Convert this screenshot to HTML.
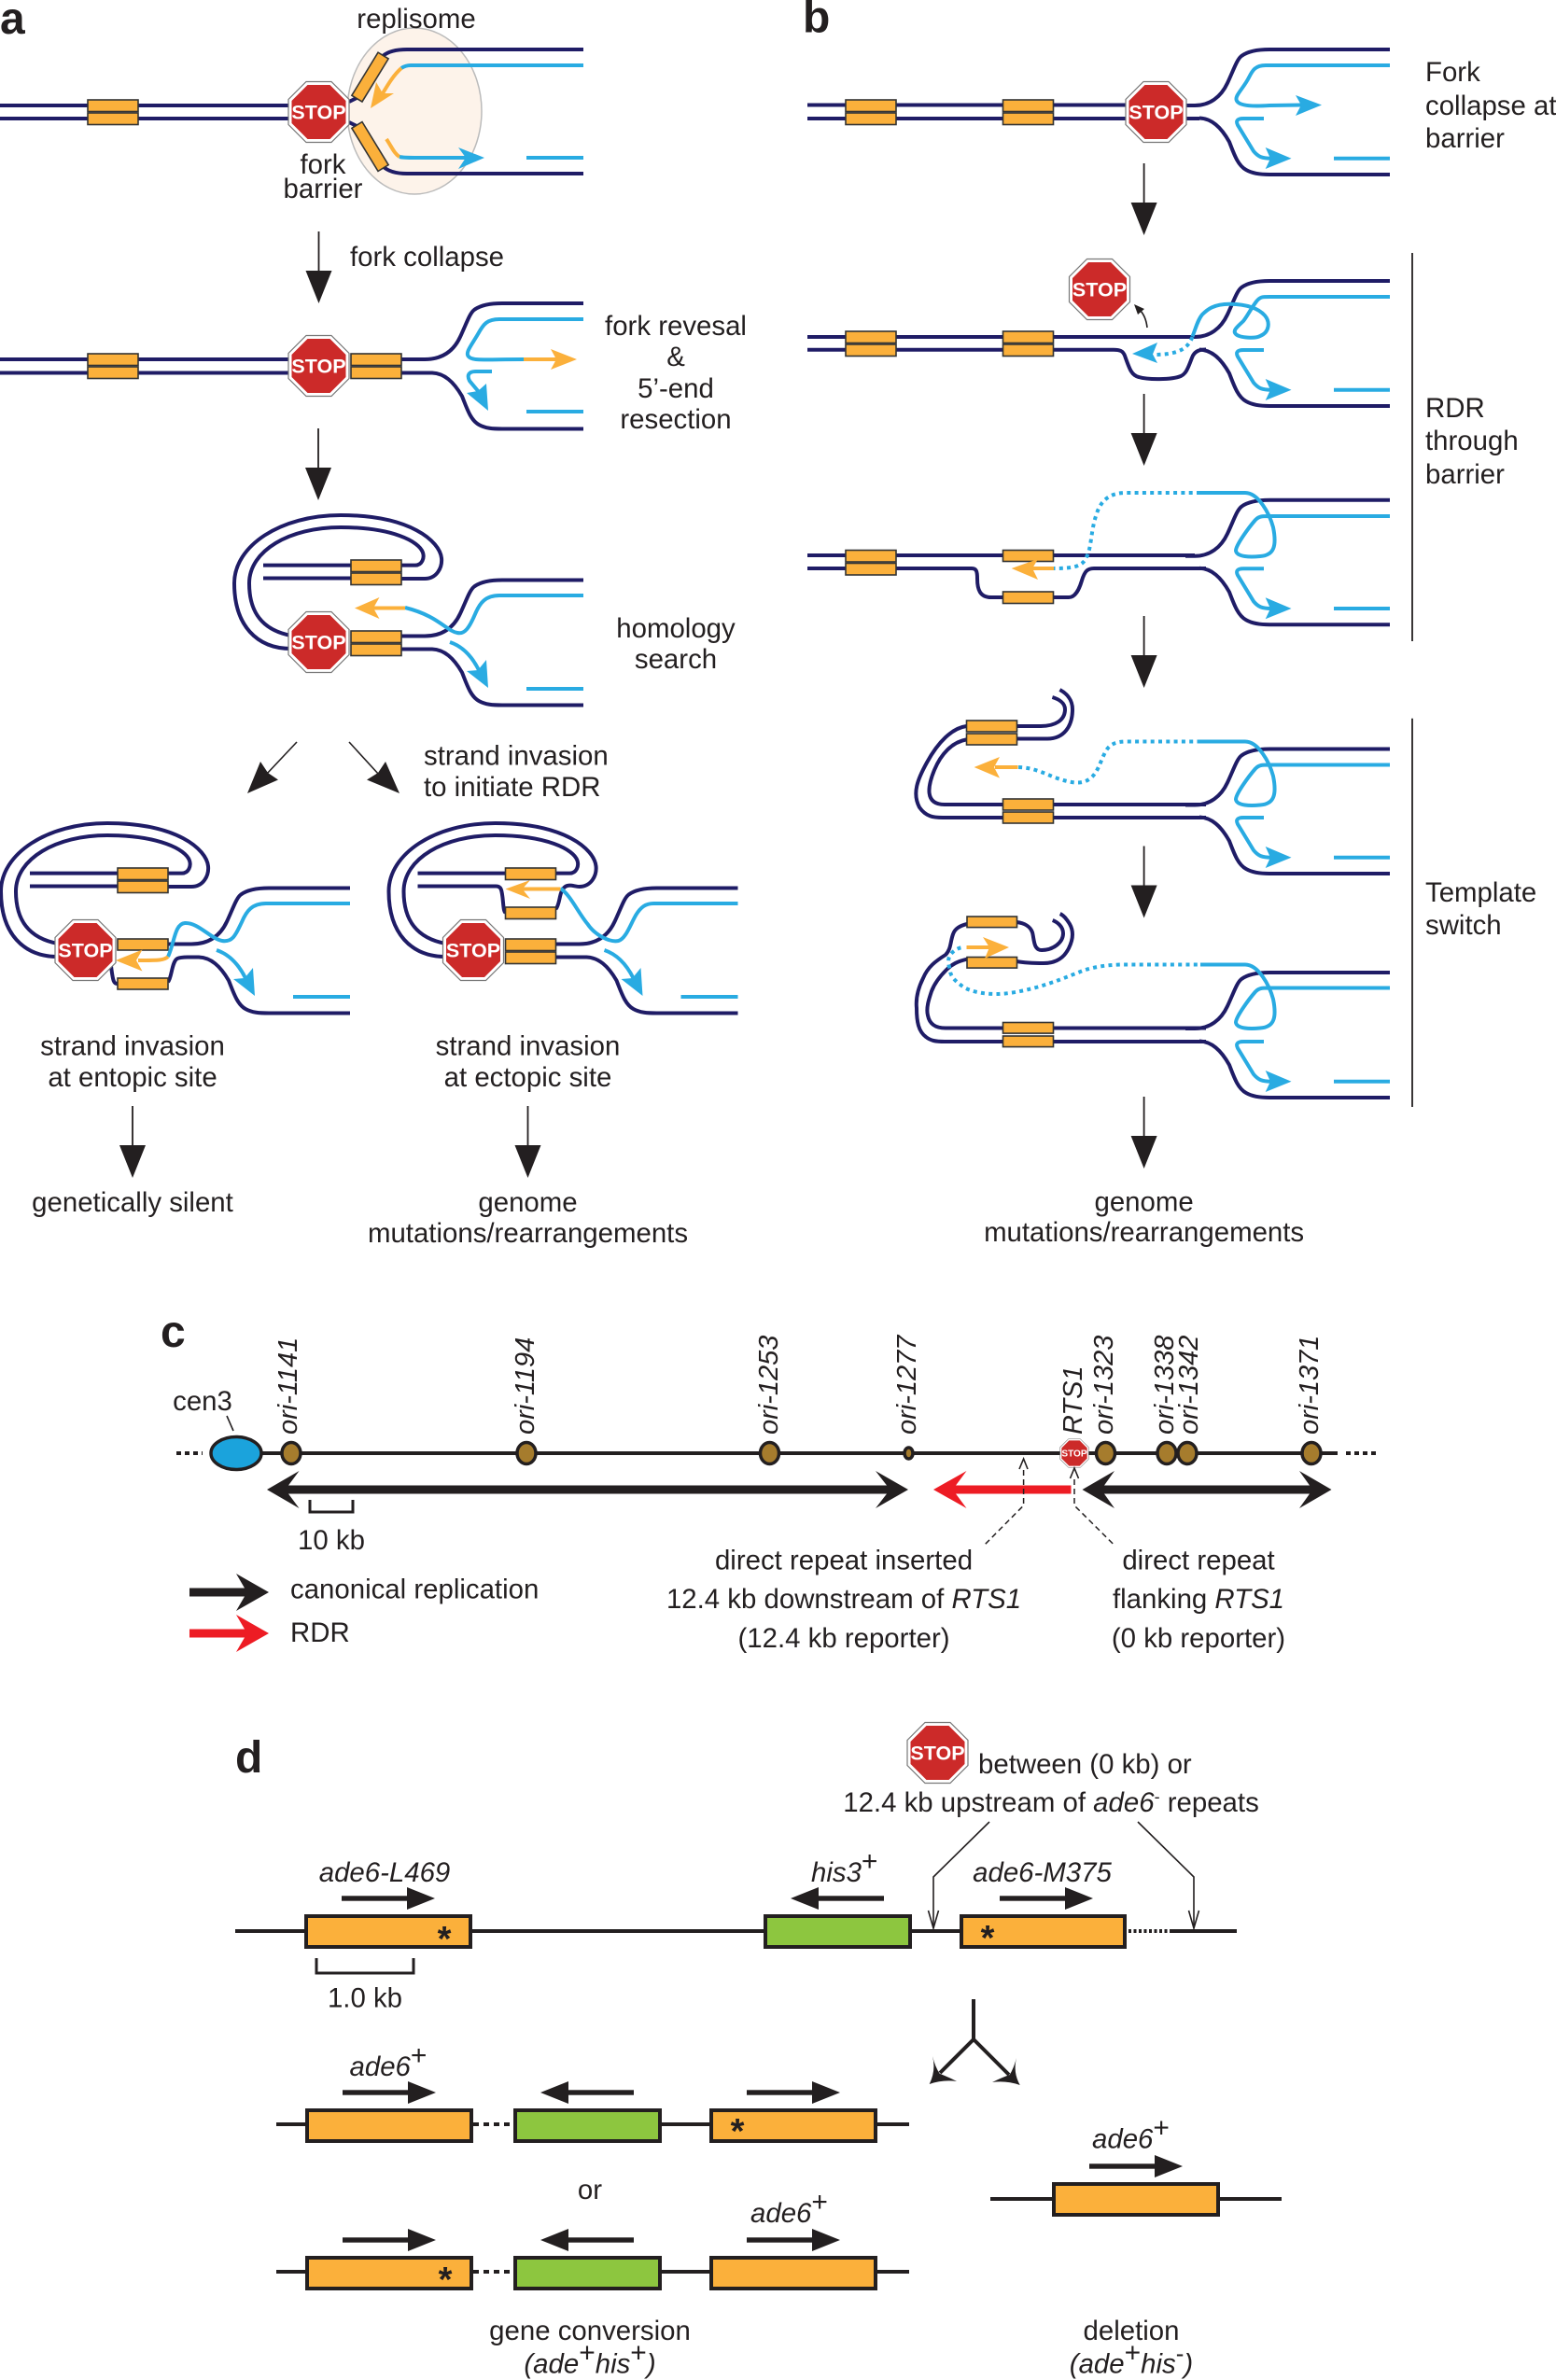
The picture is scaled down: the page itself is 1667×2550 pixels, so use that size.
<!DOCTYPE html>
<html><head><meta charset="utf-8">
<style>
html,body{margin:0;padding:0;background:#fff}
svg{display:block}
text{font-family:"Liberation Sans",sans-serif;font-size:29.4px;fill:#231f20}
.m{text-anchor:middle}
.i{font-style:italic}
.lab{font-weight:bold;font-size:48px}
.st{font-weight:bold;font-size:21.5px;fill:#fff;text-anchor:middle}
.ori{font-style:italic;font-size:29px}
.n{fill:none;stroke:#1f1c66;stroke-width:4}
.c{fill:none;stroke:#29abe2;stroke-width:4}
.d{fill:none;stroke:#29abe2;stroke-width:4;stroke-dasharray:4 4.3}
.o{fill:none;stroke:#fbb03b;stroke-width:4}
.fc{fill:#29abe2}.fo{fill:#fbb03b}
.b{fill:#fbb03b;stroke:#333;stroke-width:1.6}
.k{fill:none;stroke:#231f20;stroke-width:1.6}
.l{fill:none;stroke:#231f20;stroke-width:4}
.ds{fill:none;stroke:#231f20;stroke-width:1.5;stroke-dasharray:6 4}
.fk{fill:#231f20}
.br{stroke:#231f20;stroke-width:4;fill:#fbb03b}
.bg{stroke:#231f20;stroke-width:4;fill:#8dc63f}
.og{fill:#a67c2d;stroke:#231f20;stroke-width:3.5}
.ast{font-weight:bold;font-size:38px;text-anchor:middle}
</style></head>
<body>
<svg xmlns="http://www.w3.org/2000/svg" width="1667" height="2550" viewBox="0 0 1667 2550">
<defs>
<g id="oct">
<polygon points="-13.5,-32.5 13.5,-32.5 32.5,-13.5 32.5,13.5 13.5,32.5 -13.5,32.5 -32.5,13.5 -32.5,-13.5" fill="#fff" stroke="#777" stroke-width="1.2"/>
<polygon points="-12,-29 12,-29 29,-12 29,12 12,29 -12,29 -29,12 -29,-12" fill="#cc2a29"/>
</g>
<g id="dn"><line x1="0" y1="0" x2="0" y2="44" stroke="#231f20" stroke-width="1.8"/><polygon points="-14,42 14,42 0,77" fill="#231f20"/></g>
<g id="box2"><rect class="b" x="0" y="-13" width="54" height="12.5"/><rect class="b" x="0" y="1" width="54" height="12.5"/></g>
<g id="ra"><rect x="0" y="-2.7" width="72" height="5.4" fill="#231f20"/><polygon points="70,-12 100,0 70,12" fill="#231f20"/></g>

<!-- panel a fork, coordinates of row 2 -->
<g id="afu"><path class="n" d="M455 385C474 385 486 376 493 361C500 346 503 336 508 332C516 326 528 325 538 325H625"/></g>
<g id="afl"><path class="n" d="M455 399.500H463C476 400 486 409 495 424.500C500 437 504 450 513 455C520 459 528 459.500 538 459.500H625"/></g>
<!-- row-3 style common lower blue -->
<g id="ah3"><path class="c" d="M482 688C494 692 505 702 513 718"/><polygon class="fc" points="523,737 521,707 512,718 500,719"/><path class="c" d="M564 738H625"/></g>
<!-- loop, coords of row 3 -->
<g id="aout"><path class="n" d="M455 620C468 620 474 608 473 598C471 580 440 552 365 552C300 552 251 585 251 625C251 670 275 695 312 695"/></g>
<g id="ain"><path class="n" d="M430 605.6H445C452 605.6 455 598 453 592C449 580 420 565 365 565C310 565 267 590 267 625C267 655 280 675 312 681"/></g>

<!-- panel b fork, row 1 coordinates -->
<g id="bfu"><path class="n" d="M1270 113H1280C1296 113 1308 104 1315 89C1322 74 1325 64 1330 60C1338 54 1350 53 1360 53H1489"/></g>
<g id="bfl"><path class="n" d="M1285 126.500C1298 127 1308 136 1317 152C1322 165 1326 177 1335 182C1342 186 1350 187 1360 187H1489"/></g>
<g id="bh"><path class="c" d="M1354 127H1332C1325 127 1324 130 1326 134L1343 162C1348 168 1352 169.700 1362 169.700"/><polygon class="fc" points="1383.500,169.700 1355.700,158 1361,169.700 1355.700,181"/><path class="c" d="M1429 169.700H1489"/></g>
<!-- blue loop, row 3 coordinates -->
<g id="bl"><path class="c" d="M1286 528H1334C1348 528 1360 550 1364 565C1368 585 1365 595 1350 596C1340 597 1325 597 1324 590C1324 584 1338 565 1345 557C1349 553 1352 553 1360 553H1489"/></g>
</defs>

<!-- PANEL A -->
<text class="lab" x="0" y="36">a</text>
<ellipse cx="444" cy="119" rx="72" ry="89" fill="#fdf3ea" stroke="#bbb" stroke-width="1.5"/>
<text class="m" x="446" y="30">replisome</text>
<path class="n" d="M0 113H312M0 127H312"/>
<use href="#box2" x="94" y="120"/>
<path class="n" d="M374 109L384 104M374 131L384 136"/>
<path class="n" d="M410 60C416 55 425 53 436 53H625M410 178C416 184 425 186 436 186H625"/>
<rect class="b" x="-27" y="-6.5" width="54" height="13" transform="translate(396.5 82.6) rotate(-58.6)"/>
<rect class="b" x="-27" y="-6.5" width="54" height="13" transform="translate(396.5 157) rotate(58.6)"/>
<path class="c" d="M625 70H440C436 70 433 71 430 73"/>
<path class="o" d="M430 73C422 80 416 90 410 100"/>
<polygon class="fo" points="397,116 403,88 410,100 422,100"/>
<path class="o" d="M414 149C420 158 422 164 428 168"/>
<path class="c" d="M428 168C432 169 436 169 444 169H499"/>
<polygon class="fc" points="519,169 491,158 499,169 491,181"/>
<path class="c" d="M564 169H625"/>
<use href="#oct" x="341.5" y="120"/><text class="st" x="341.5" y="127.500">STOP</text>
<text class="m" x="346" y="186">fork</text>
<text class="m" x="346" y="212">barrier</text>

<use href="#dn" x="341.500" y="248"/>
<text x="375" y="285">fork collapse</text>

<path class="n" d="M0 385H312M0 399.500H312"/>
<path class="n" d="M430 385H455M430 399.500H455"/>
<use href="#afu"/><use href="#afl"/>
<use href="#box2" x="94" y="392"/><use href="#box2" x="376" y="392"/>
<use href="#oct" x="341.5" y="392"/><text class="st" x="341.5" y="399.500">STOP</text>
<path class="c" d="M625 342H535C522 342 518 347 512 358C505 370 498 378 502 382C506 387 520 385 561 385"/>
<path class="o" d="M561 385H596"/>
<polygon class="fo" points="618,385 590,374 596,385 590,396"/>
<path class="c" d="M527 398H510C502 398 500 402 503 408L513 420"/>
<polygon class="fc" points="523,440 521,411 512,419 500,421"/>
<path class="c" d="M564 441H625"/>
<text class="m" x="724" y="359">fork revesal</text>
<text class="m" x="724" y="392">&amp;</text>
<text class="m" x="724" y="426">5’-end</text>
<text class="m" x="724" y="459">resection</text>

<use href="#dn" x="341" y="459"/>

<!-- row 3 -->
<path class="n" d="M282 605.600H376M282 619.500H376"/>
<use href="#ain"/><use href="#aout"/>
<path class="n" d="M430 620H455"/>
<path class="n" d="M430 681.500H455M430 695.500H455"/>
<use href="#afu" y="296.500"/><use href="#afl" y="296"/>
<use href="#box2" x="376" y="613"/><use href="#box2" x="376" y="689"/>
<use href="#oct" x="341.5" y="688"/><text class="st" x="341.5" y="695.500">STOP</text>
<path class="c" d="M625 638H535C520 638 514 646 509 658C503 672 498 680 490 678C478 676 470 660 434 651"/>
<path class="o" d="M434 651.500H400"/>
<polygon class="fo" points="380,651.500 406.500,640 400,651.500 406.500,663"/>
<use href="#ah3"/>
<text class="m" x="724" y="683">homology</text>
<text class="m" x="724" y="716">search</text>

<!-- diagonals -->
<line class="k" x1="318" y1="795" x2="285" y2="830"/>
<polygon class="fk" points="265,850 279,816 287,828 298,835.500"/>
<line class="k" x1="374" y1="795" x2="406" y2="830"/>
<polygon class="fk" points="428,850 413,816 405,828 393,835.500"/>
<text x="454" y="819.500">strand invasion</text>
<text x="454" y="853">to initiate RDR</text>

<!-- sub left -->
<g transform="translate(-250 330)">
<path class="n" d="M282 605.600H376M282 619.500H376"/>
<use href="#ain"/><use href="#aout"/>
<path class="n" d="M430 620H455"/>
<path class="n" d="M430 681.500H455"/>
<path class="n" d="M369 705C371 722 372 724 376 724M430 722C434 718 434 700 440 697C444 695 450 695.500 455 695.500"/>
<use href="#afu" y="296.500"/><use href="#afl" y="296"/>
<use href="#box2" x="376" y="613"/>
<rect class="b" x="376" y="676" width="54" height="12"/>
<rect class="b" x="376" y="718" width="54" height="12"/>
<use href="#oct" x="341.5" y="688"/><text class="st" x="341.5" y="695.500">STOP</text>
<path class="c" d="M430 695C437 680 437 660 448 659C462 658 476 676 488 678C500 680 503 670 509 658C514 646 520 638 535 638H625"/>
<path class="o" d="M430 695C426 699 420 699 398 699"/>
<polygon class="fo" points="374,699 402.500,687.500 396,699 402.500,710.500"/>
<use href="#ah3"/>
</g>
<!-- sub right -->
<g transform="translate(165.500 330)">
<path class="n" d="M282 605.600H376M282 619.500H366C372 619.500 372 625 373 632C374 642 374 646 376 648"/>
<path class="n" d="M430 644C435 638 433 625 440 620C445 617 450 620 455 620"/>
<use href="#ain"/><use href="#aout"/>
<path class="n" d="M430 681.500H455M430 695.500H455"/>
<use href="#afu" y="296.500"/><use href="#afl" y="296"/>
<rect class="b" x="376" y="600" width="54" height="12.500"/>
<rect class="b" x="376" y="642" width="54" height="12.500"/>
<use href="#box2" x="376" y="689"/>
<use href="#oct" x="341.5" y="688"/><text class="st" x="341.5" y="695.500">STOP</text>
<path class="c" d="M435 622C445 628 454 648 464 660C472 672 488 680 497 678C505 676 510 660 516 650C521 642 526 638 535 638H625"/>
<path class="o" d="M435 622.500H394"/>
<polygon class="fo" points="376,622.500 402.500,613 394,622.500 402.500,633"/>
<use href="#ah3"/>
</g>
<text class="m" x="142" y="1130.500">strand invasion</text>
<text class="m" x="142" y="1164">at entopic site</text>
<text class="m" x="565.500" y="1130.500">strand invasion</text>
<text class="m" x="565.500" y="1164">at ectopic site</text>
<use href="#dn" x="142" y="1185"/><use href="#dn" x="565.500" y="1185"/>
<text class="m" x="142" y="1298">genetically silent</text>
<text class="m" x="565.500" y="1298">genome</text>
<text class="m" x="565.500" y="1331">mutations/rearrangements</text>

<!-- PANEL B -->
<text class="lab" x="860" y="34.500">b</text>
<!-- row 1 -->
<path class="n" d="M865 112.500H1208M865 127H1208M1270 127H1285"/>
<use href="#bfu"/><use href="#bfl"/>
<use href="#box2" x="906" y="120"/><use href="#box2" x="1074.500" y="120"/>
<use href="#oct" x="1238.500" y="120"/><text class="st" x="1238.500" y="127.500">STOP</text>
<path class="c" d="M1489 70H1356C1345 70 1342 75 1338 83C1332 95 1322 103 1325 108C1328 114 1345 114 1360 113L1394 112.500"/>
<polygon class="fc" points="1416,112.500 1388,102 1394,112.500 1388,124"/>
<use href="#bh"/>
<text x="1527" y="87">Fork</text>
<text x="1527" y="123">collapse at</text>
<text x="1527" y="158">barrier</text>
<use href="#dn" x="1225.600" y="175"/>

<!-- row 2 -->
<path class="n" d="M865 361H1280M865 374.700H1193C1200 374.700 1203 376 1205 381C1210 395 1212 402 1220 404C1230 407 1255 407 1265 403C1272 400 1274 390 1278 381C1281 376 1285 374.500 1292 374.500"/>
<use href="#bfu" y="248"/><use href="#bfl" y="248"/>
<use href="#box2" x="906" y="368"/><use href="#box2" x="1074.500" y="368"/>
<use href="#oct" x="1178" y="310"/><text class="st" x="1178" y="317.500">STOP</text>
<path class="k" d="M1229 351C1228 342 1225 336 1221 332"/>
<polygon class="fk" points="1215,326 1226,331 1219,337"/>
<path class="c" d="M1489 318H1360C1352 318 1350 318 1346 323C1340 331 1336 339 1332 344C1326 350 1320 354 1324 358C1328 362 1345 363 1350 360C1360 356 1361 345 1355 338C1348 330 1335 326 1318 325.700C1300 325.500 1293 332 1288 337C1283 343 1281 352 1277.500 360.500"/>
<path class="d" d="M1277.500 361C1273 372 1265 380 1236 380"/>
<polygon class="fc" points="1213,379 1240,367 1235,379.500 1240,389"/>
<use href="#bh" y="248"/>
<use href="#dn" x="1225.600" y="422"/>

<line x1="1513" y1="271" x2="1513" y2="687" stroke="#231f20" stroke-width="1.800"/>
<text x="1527" y="447">RDR</text>
<text x="1527" y="482">through</text>
<text x="1527" y="518">barrier</text>

<!-- row 3 -->
<path class="n" d="M865 595H1280"/>
<path class="n" d="M865 609H1041C1046 609 1047 612 1047 620C1047 632 1050 640 1062 640H1145C1152 640 1156 632 1159 622C1162 612 1165 609 1172 609H1292"/>
<use href="#bfu" y="482.800"/><use href="#bfl" y="482.300"/>
<use href="#box2" x="906" y="602.500"/>
<rect class="b" x="1074.500" y="589.500" width="54" height="12"/>
<rect class="b" x="1074.500" y="634" width="54" height="12.500"/>
<use href="#bl"/>
<path class="d" d="M1286 528H1206C1190 528 1180 535 1175 550C1168 570 1170 585 1164 597C1160 607 1150 609 1129 609"/>
<path class="o" d="M1129 609H1106"/>
<polygon class="fo" points="1083.600,609 1112,599 1106,609 1112,621"/>
<use href="#bh" y="482.300"/>
<use href="#dn" x="1225.600" y="660"/>

<!-- row 4 -->
<path class="n" d="M1035.500 778C1020 780 1005 795 993 817C983 835 977 850 985 865C992 875 1000 876 1010 876H1292"/>
<path class="n" d="M1035.500 792.400C1020 795 1008 808 1001 825C994 842 990 862 1012 862H1292"/>
<path class="n" d="M1089.500 778H1115C1130 778 1141 772 1141 760C1141 753 1134 749 1127.400 747"/>
<path class="n" d="M1089.500 791.500H1122C1140 791.500 1149 778 1149 760C1149 750 1143 743 1135.400 739"/>
<use href="#bfu" y="749.500"/><use href="#bfl" y="749"/>
<rect class="b" x="1035.500" y="772" width="54" height="12"/><rect class="b" x="1035.500" y="786" width="54" height="12"/>
<rect class="b" x="1074.500" y="856" width="54" height="12"/><rect class="b" x="1074.500" y="870" width="54" height="12"/>
<use href="#bl" y="266.500"/>
<path class="d" d="M1286.500 794.500H1206C1195 794.500 1188 798 1184 806C1178 818 1176 828 1168 834C1158 842 1145 838 1130 833C1118 828 1105 822 1090.500 822"/>
<path class="o" d="M1090.500 822H1066"/>
<polygon class="fo" points="1043.600,822 1071,811 1065,822 1071,833.600"/>
<use href="#bh" y="749"/>
<use href="#dn" x="1225.600" y="906.500"/>

<line x1="1513" y1="769.700" x2="1513" y2="1186" stroke="#231f20" stroke-width="1.800"/>
<text x="1527" y="966">Template</text>
<text x="1527" y="1001">switch</text>

<!-- row 5 -->
<path class="n" d="M1036 990C1028 992 1023 995 1021 1001C1018 1009 1019 1017 1013 1023C1002 1030 994 1036 989 1048C983 1060 981 1070 982 1080C982 1095 984 1105 992 1111C997 1115 1002 1116 1012 1116H1292"/>
<path class="n" d="M1036 1027.700C1026 1030 1020 1033 1014 1039C1006 1047 1001 1054 998 1062C995 1071 992 1080 994 1088C996 1098 1003 1101.500 1013 1101.500H1292"/>
<path class="n" d="M1089 988C1098 989 1104 993 1106 999C1108 1006 1107 1018 1116 1018C1128 1018 1139 1010 1139 1000C1139 993 1133 988 1127.700 986"/>
<path class="n" d="M1089 1030C1100 1032 1110 1032 1118 1032C1132 1032 1140 1026 1145 1016C1150 1006 1150 997 1146 990C1143 985 1140 981 1135.700 979"/>
<use href="#bfu" y="989"/><use href="#bfl" y="989"/>
<rect class="b" x="1036" y="982" width="53.500" height="11.600"/><rect class="b" x="1036" y="1025.500" width="53.500" height="11.600"/>
<rect class="b" x="1074.500" y="1095.500" width="54" height="11.600"/><rect class="b" x="1074.500" y="1110" width="54" height="11.600"/>
<use href="#bl" y="505.500"/>
<path class="d" d="M1282.800 1033.500H1200C1185 1034 1172 1036 1160 1040C1145 1046 1128 1053 1110 1058C1095 1062 1080 1065 1067 1065C1055 1065 1042 1063 1033 1058C1024 1052 1018 1046 1018 1040C1016 1033 1015 1028 1018 1023C1022 1018 1027 1015 1033 1015"/>
<path class="o" d="M1035.500 1015H1062"/>
<polygon class="fo" points="1081,1015 1053,1004 1060,1015 1055,1027"/>
<use href="#bh" y="989"/>
<use href="#dn" x="1225.600" y="1175"/>
<text class="m" x="1225.600" y="1297.500">genome</text>
<text class="m" x="1225.600" y="1330">mutations/rearrangements</text>

<!-- PANEL C -->
<text class="lab" x="172" y="1443">c</text>
<path d="M189 1557H217" stroke="#231f20" stroke-width="4" stroke-dasharray="5 4" fill="none"/>
<path class="l" d="M225 1557H1433"/>
<path d="M1442 1557H1474" stroke="#231f20" stroke-width="4" stroke-dasharray="5 4" fill="none"/>
<text class="m" x="217" y="1511">cen3</text>
<line class="k" x1="243" y1="1517" x2="250" y2="1533" stroke-width="2"/>
<ellipse cx="253" cy="1557" rx="27" ry="17.500" fill="#1ba3dc" stroke="#231f20" stroke-width="3.500"/>
<ellipse class="og" cx="312" cy="1557" rx="10" ry="11.500"/>
<ellipse class="og" cx="564" cy="1557" rx="10" ry="11.500"/>
<ellipse class="og" cx="824.500" cy="1557" rx="10" ry="11.500"/>
<ellipse class="og" cx="973.500" cy="1557" rx="4.500" ry="6" stroke-width="2.500"/>
<ellipse class="og" cx="1184.500" cy="1557" rx="10" ry="11.500"/>
<ellipse class="og" cx="1250" cy="1557" rx="10" ry="11.500"/>
<ellipse class="og" cx="1272" cy="1557" rx="10" ry="11.500"/>
<ellipse class="og" cx="1405" cy="1557" rx="10" ry="11.500"/>
<g transform="translate(1151 1557) scale(.47)"><use href="#oct"/><text class="st" x="0" y="7.500">STOP</text></g>
<text class="ori" transform="translate(318 1537) rotate(-90)">ori-1141</text>
<text class="ori" transform="translate(572 1537) rotate(-90)">ori-1194</text>
<text class="ori" transform="translate(833 1537) rotate(-90)">ori-1253</text>
<text class="ori" transform="translate(981 1537) rotate(-90)">ori-1277</text>
<text class="ori" transform="translate(1159 1537) rotate(-90)">RTS1</text>
<text class="ori" transform="translate(1192 1537) rotate(-90)">ori-1323</text>
<text class="ori" transform="translate(1257 1537) rotate(-90)">ori-1338</text>
<text class="ori" transform="translate(1283 1537) rotate(-90)">ori-1342</text>
<text class="ori" transform="translate(1412 1537) rotate(-90)">ori-1371</text>
<polygon class="fk" points="286,1596 320.500,1576 309,1591.500 950,1591.500 938,1576 973,1596 938,1616 950,1600.500 309,1600.500 320.500,1616"/>
<polygon fill="#ed1c24" points="1000,1596 1035.500,1576 1024,1591.500 1147.500,1591.500 1147.500,1600.500 1024,1600.500 1035.500,1616"/>
<polygon class="fk" points="1159.500,1596 1194,1576 1183,1591.500 1403,1591.500 1392,1576 1426.500,1596 1392,1616 1403,1600.500 1183,1600.500 1194,1616"/>
<path d="M332 1607V1620H378V1607" fill="none" stroke="#231f20" stroke-width="3"/>
<text class="m" x="355" y="1660">10 kb</text>
<path class="ds" d="M1096.600 1575V1613L1054 1656"/>
<path d="M1092 1574L1096.600 1563L1101 1574" class="k" stroke-width="1.300"/>
<path class="ds" d="M1151 1585V1613L1195 1656.700"/>
<path d="M1146.500 1584L1151 1573L1155.500 1584" class="k" stroke-width="1.300"/>
<text class="m" x="904" y="1681.500">direct repeat inserted</text>
<text class="m" x="904" y="1723">12.4 kb downstream of <tspan class="i">RTS1</tspan></text>
<text class="m" x="904" y="1765">(12.4 kb reporter)</text>
<text class="m" x="1284" y="1681.500">direct repeat</text>
<text class="m" x="1284" y="1723">flanking <tspan class="i">RTS1</tspan></text>
<text class="m" x="1284" y="1765">(0 kb reporter)</text>
<polygon class="fk" points="203,1701.500 262,1701.500 253,1686 288,1706 253,1726 262,1710.500 203,1710.500"/>
<polygon fill="#ed1c24" points="203,1745.500 262,1745.500 253,1730 288,1750 253,1770 262,1754.500 203,1754.500"/>
<text x="311" y="1712.500">canonical replication</text>
<text x="311" y="1759">RDR</text>

<!-- PANEL D -->
<text class="lab" x="252" y="1899">d</text>
<use href="#oct" x="1004.500" y="1878"/><text class="st" x="1004.500" y="1885.500">STOP</text>
<text x="1048" y="1900">between (0 kb) or</text>
<text class="m" x="1126" y="1941">12.4 kb upstream of <tspan class="i">ade6</tspan><tspan font-size="18" dy="-10">-</tspan><tspan dy="10"> repeats</tspan></text>
<path class="k" d="M1060 1952L1000 2011V2066"/>
<path class="k" d="M994.500 2047L1000 2066L1005.500 2047"/>
<path class="k" d="M1219 1952L1279 2011V2066"/>
<path class="k" d="M1273.500 2047L1279 2066L1284.500 2047"/>

<path class="l" d="M252 2069H330M504 2069H820M976 2069H1030M1254 2069H1325"/>
<path d="M1209 2069H1254" stroke="#231f20" stroke-width="4" stroke-dasharray="3 2.500" fill="none"/>
<rect class="br" x="328" y="2053" width="176" height="33"/>
<rect class="bg" x="820" y="2053" width="155" height="33"/>
<rect class="br" x="1030" y="2053" width="175" height="33"/>
<text class="ast" x="476" y="2090">*</text>
<text class="ast" x="1058" y="2089">*</text>
<text class="m i" x="412" y="2016">ade6-L469</text>
<text class="i" x="869" y="2016">his3<tspan font-style="normal" font-size="30" dy="-12">+</tspan></text>
<text class="m i" x="1116.500" y="2016">ade6-M375</text>
<use href="#ra" transform="translate(366 2034)"/>
<use href="#ra" transform="translate(947 2034) scale(-1 1)"/>
<use href="#ra" transform="translate(1071 2034)"/>
<path d="M339 2098V2114H443V2098" fill="none" stroke="#231f20" stroke-width="3"/>
<text class="m" x="391" y="2150.500">1.0 kb</text>

<path d="M1043 2142V2185L1007 2221M1043 2185L1081 2223" fill="none" stroke="#231f20" stroke-width="4"/>
<path class="fk" d="M995.700 2233Q1003 2218 999 2203Q1002 2215 1006.700 2221.700Q1015 2225 1025 2230Q1010 2228 995.700 2233Z"/>
<path class="fk" d="M1092.700 2234Q1085 2220 1089 2205Q1086 2216 1081.700 2223Q1073 2226 1063 2231Q1078 2229 1092.700 2234Z"/>

<!-- row 2 -->
<path class="l" d="M296 2276H330M708 2276H762M938 2276H974"/>
<path d="M507 2276H550" stroke="#231f20" stroke-width="4" stroke-dasharray="6 5" fill="none"/>
<rect class="br" x="329" y="2261" width="176" height="33"/>
<rect class="bg" x="552" y="2261" width="155" height="33"/>
<rect class="br" x="762" y="2261" width="176" height="33"/>
<text class="ast" x="790" y="2296">*</text>
<use href="#ra" transform="translate(367 2242)"/>
<use href="#ra" transform="translate(679 2242) scale(-1 1)"/>
<use href="#ra" transform="translate(800 2242)"/>
<text class="i" x="374.500" y="2224">ade6<tspan font-style="normal" font-size="30" dy="-12">+</tspan></text>
<text class="m" x="632" y="2356">or</text>

<!-- row 3 -->
<path class="l" d="M296 2434H330M708 2434H762M938 2434H974"/>
<path d="M507 2434H550" stroke="#231f20" stroke-width="4" stroke-dasharray="6 5" fill="none"/>
<rect class="br" x="329" y="2419" width="176" height="33"/>
<rect class="bg" x="552" y="2419" width="155" height="33"/>
<rect class="br" x="762" y="2419" width="176" height="33"/>
<text class="ast" x="477" y="2455">*</text>
<use href="#ra" transform="translate(367 2400)"/>
<use href="#ra" transform="translate(679 2400) scale(-1 1)"/>
<use href="#ra" transform="translate(800 2400)"/>
<text class="i" x="804" y="2381">ade6<tspan font-style="normal" font-size="30" dy="-12">+</tspan></text>

<!-- deletion -->
<path class="l" d="M1061 2356H1129M1305 2356H1373"/>
<rect class="br" x="1129" y="2340" width="176" height="33"/>
<use href="#ra" transform="translate(1167 2321)"/>
<text class="i" x="1170" y="2301.500">ade6<tspan font-style="normal" font-size="30" dy="-12">+</tspan></text>

<text class="m" x="632" y="2507">gene conversion</text>
<text class="m i" x="632" y="2542.500">(ade<tspan font-style="normal" font-size="30" dy="-12">+</tspan><tspan dy="12">his</tspan><tspan font-style="normal" font-size="30" dy="-12">+</tspan><tspan dy="12">)</tspan></text>
<text class="m" x="1212" y="2507">deletion</text>
<text class="m i" x="1212" y="2542.500">(ade<tspan font-style="normal" font-size="30" dy="-12">+</tspan><tspan dy="12">his</tspan><tspan font-style="normal" font-size="26" dy="-12">-</tspan><tspan dy="12">)</tspan></text>
</svg>
</body></html>
